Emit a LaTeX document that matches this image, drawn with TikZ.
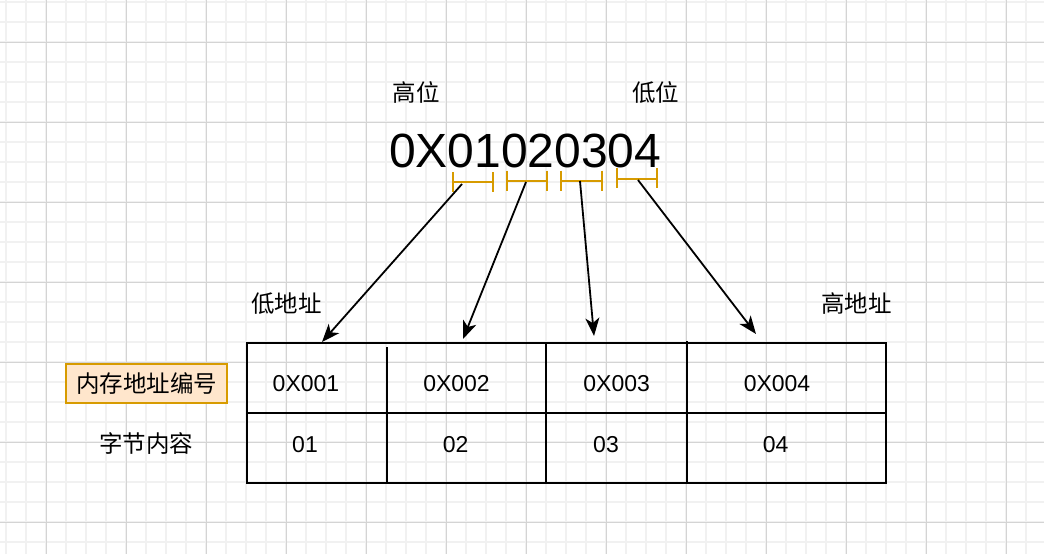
\documentclass[tikz,border=0pt]{standalone}
\usepackage{fontspec}
\setmainfont{Liberation Sans}
\newfontfamily\cjk{Noto Sans CJK SC}
\usetikzlibrary{arrows.meta}
\definecolor{gridminor}{RGB}{241,241,241}
\definecolor{gridmajor}{RGB}{212,212,212}
\definecolor{gold}{RGB}{215,155,0}
\definecolor{peach}{RGB}{255,230,204}
\begin{document}
\begin{tikzpicture}[x=1pt,y=-1pt,
  minorline/.style={gridminor,line width=1.6pt},
  majorline/.style={gridmajor,line width=0.9pt},
  lbl/.style={inner sep=0pt,font=\fontsize{23}{26}\selectfont},
  cjklbl/.style={inner sep=0pt,font=\fontsize{23.5}{26}\selectfont\cjk},
  bigtxt/.style={inner sep=0pt,font=\fontsize{48}{54}\selectfont},
  bracket/.style={gold,line width=2pt},
  tbl/.style={draw=black,line width=2pt},
  arr/.style={line width=1.8pt,-{Stealth[length=18pt,width=14pt,inset=5pt]}},
  keybox/.style={draw=gold,fill=peach,line width=1.8pt,minimum width=161pt,minimum height=39pt,inner sep=0pt,font=\fontsize{23.5}{26}\selectfont\cjk}
]
\useasboundingbox (0,0) rectangle (1044,554);
\fill[white] (0,0) rectangle (1044,554);
% grid
\foreach \x in {6,26,...,1044} \draw[minorline] (\x,0) -- (\x,554);
\foreach \y in {2,22,...,554} \draw[minorline] (0,\y) -- (1044,\y);
\foreach \x in {46,126,...,1044} \draw[majorline] (\x,0) -- (\x,554);
\foreach \y in {42,122,...,554} \draw[majorline] (0,\y) -- (1044,\y);

% top labels
\node[cjklbl] (hiPos) at (416,92.5) {高位};
\node[cjklbl] (loPos) at (655.5,92.5) {低位};
\node[bigtxt] (num) at (525.3,150.8) {0X01020304};

% brackets
\draw[bracket] (452.7,172.3) -- (452.7,192.3) (452.7,182.3) -- (493.3,182.3) (493.3,172.3) -- (493.3,192.3);
\draw[bracket] (506.7,170.7) -- (506.7,190.7) (506.7,180.7) -- (547.3,180.7) (547.3,170.7) -- (547.3,190.7);
\draw[bracket] (560.7,170.7) -- (560.7,190.7) (560.7,180.7) -- (601.7,180.7) (601.7,170.7) -- (601.7,190.7);
\draw[bracket] (616.7,168.3) -- (616.7,188.3) (616.7,178.5) -- (657.3,178.5) (657.3,168.3) -- (657.3,188.3);
\coordinate (s1) at (462,184);
\coordinate (s2) at (526,182);
\coordinate (s3) at (580,181);
\coordinate (s4) at (638,180);

% address labels
\node[cjklbl] (loAddr) at (286.7,303.5) {低地址};
\node[cjklbl] (hiAddr) at (856.7,303.5) {高地址};

% table
\node[tbl,minimum width=639pt,minimum height=140pt,inner sep=0pt] (table) at (566.5,413) {};
\draw[tbl] (table.west) -- (table.east);
\draw[tbl] (387,347) -- (387,483);
\draw[tbl] (546,343) -- (546,483);
\draw[tbl] (687,341) -- (687,483);

\node[lbl] (a1) at (306,383.8) {0X001};
\node[lbl] (a2) at (456.5,383.8) {0X002};
\node[lbl] (a3) at (616.7,383.8) {0X003};
\node[lbl] (a4) at (777,383.8) {0X004};
\node[lbl] (v1) at (305,444.3) {01};
\node[lbl] (v2) at (455.6,444.3) {02};
\node[lbl] (v3) at (606,444.3) {03};
\node[lbl] (v4) at (775.7,444.3) {04};

\node[keybox] (key) at (146.6,383.7) {内存地址编号};
\node[cjklbl] (content) at (146.3,443.5) {字节内容};

% arrows
\coordinate (e1) at (322,342);
\coordinate (e2) at (463,339);
\coordinate (e3) at (594,336);
\coordinate (e4) at (756,334);
\draw[arr] (s1) -- (e1);
\draw[arr] (s2) -- (e2);
\draw[arr] (s3) -- (e3);
\draw[arr] (s4) -- (e4);
\end{tikzpicture}
\end{document}
